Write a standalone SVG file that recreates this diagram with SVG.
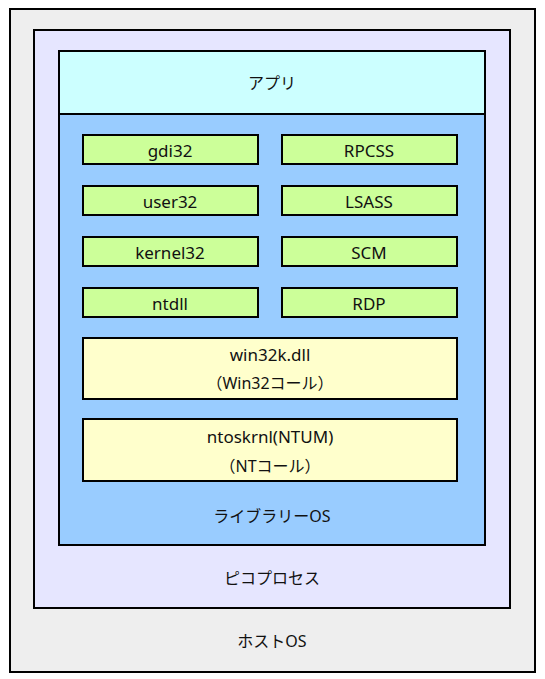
<svg xmlns="http://www.w3.org/2000/svg" width="545" height="679" viewBox="0 0 545 679">
<style>
rect{stroke:#000;stroke-width:2}
text{font-family:"Noto Sans","Noto Sans CJK JP",sans-serif;font-size:16px;text-anchor:middle;dominant-baseline:central;fill:#111}
.g{fill:#ccff99}
.y{fill:#ffffcc}
.l{font-size:17px}
</style>
<g id="host"><rect x="10" y="9" width="525" height="663" fill="#eeeeee"/><text x="272" y="641">ホストOS</text></g>
<g id="pico"><rect x="34" y="30" width="476" height="578" fill="#e6e6ff"/><text x="272" y="578">ピコプロセス</text></g>
<g id="app"><rect x="59" y="51" width="426" height="63" fill="#ccffff"/><text x="272" y="83">アプリ</text></g>
<g id="libos"><rect x="59" y="114" width="426" height="431" fill="#99ccff"/><text x="272" y="516">ライブラリーOS</text></g>
<g id="gdi32"><rect class="g" x="83" y="135" width="175" height="29"/><text class="l" x="170" y="150">gdi32</text></g>
<g id="user32"><rect class="g" x="83" y="186" width="175" height="29"/><text class="l" x="170" y="201">user32</text></g>
<g id="kernel32"><rect class="g" x="83" y="237" width="175" height="29"/><text class="l" x="170" y="252">kernel32</text></g>
<g id="ntdll"><rect class="g" x="83" y="288" width="175" height="29"/><text class="l" x="170" y="303">ntdll</text></g>
<g id="rpcss"><rect class="g" x="282" y="135" width="175" height="29"/><text class="l" x="369" y="150">RPCSS</text></g>
<g id="lsass"><rect class="g" x="282" y="186" width="175" height="29"/><text class="l" x="369" y="201">LSASS</text></g>
<g id="scm"><rect class="g" x="282" y="237" width="175" height="29"/><text class="l" x="369" y="252">SCM</text></g>
<g id="rdp"><rect class="g" x="282" y="288" width="175" height="29"/><text class="l" x="369" y="303">RDP</text></g>
<g id="win32k"><rect class="y" x="83" y="338" width="374" height="61"/><text class="l" x="270" y="354">win32k.dll</text><text x="270" y="383">（Win32コール）</text></g>
<g id="ntoskrnl"><rect class="y" x="83" y="419" width="374" height="62"/><text class="l" x="270" y="436">ntoskrnl(NTUM)</text><text x="270" y="466">（NTコール）</text></g>
<g id="connectors"/>
</svg>
